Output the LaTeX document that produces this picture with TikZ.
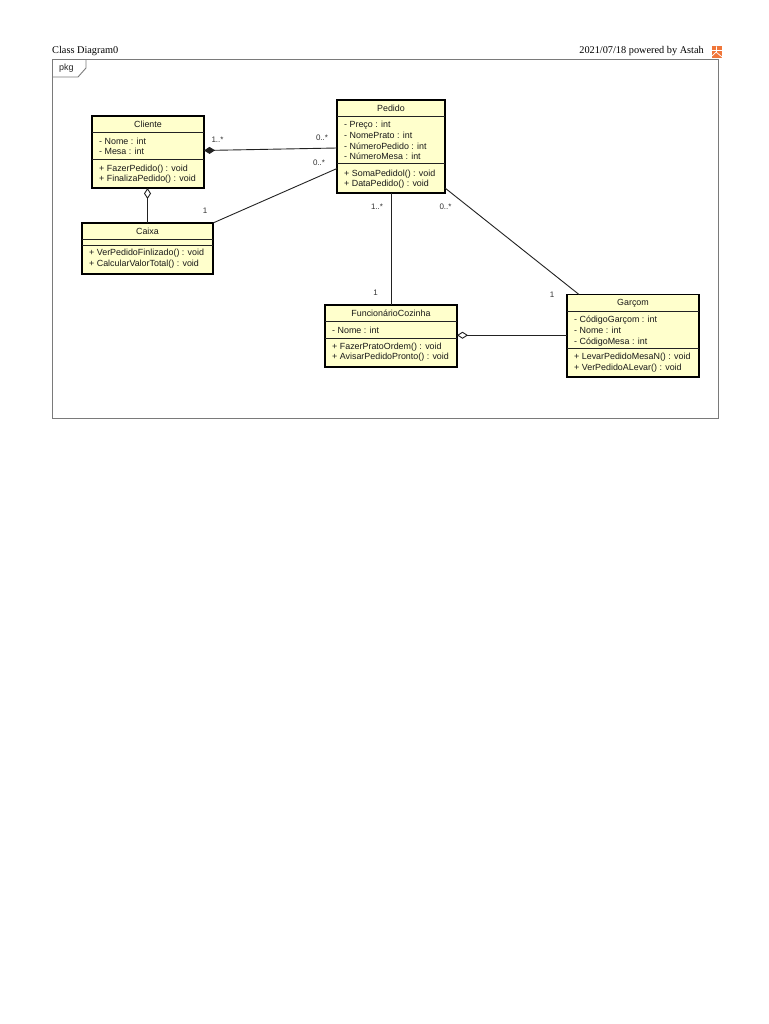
\documentclass[tikz,border=0pt]{standalone}
\usepackage{fontspec}
\setmainfont{Liberation Sans}
\newfontfamily\titlefont{Liberation Serif}
\usetikzlibrary{arrows.meta,calc}
\definecolor{umlfill}{HTML}{FFFFCC}
\definecolor{umlline}{HTML}{222222}
\definecolor{framegray}{HTML}{7A7A7A}
\definecolor{astah}{HTML}{F0763A}
\tikzset{
  classbox/.style={draw=black,fill=umlfill,line width=1.1pt,rectangle,inner sep=0pt,outer sep=0pt},
  divider/.style={draw=umlline,line width=0.7pt},
  classname/.style={font=\fontsize{8.9}{10}\selectfont,text=black!90,inner sep=0pt},
  members/.style={font=\fontsize{8.9}{10.7}\selectfont,text=black!90,align=left,anchor=north west,inner sep=0pt},
  assoc/.style={draw=umlline,line width=0.9pt},
  multi/.style={font=\fontsize{8}{9}\selectfont,text=black!80,inner sep=0pt},
  shared/.style={-{Diamond[open,length=11pt,width=7pt,fill=white]}},
  composite/.style={-{Diamond[length=11pt,width=7pt]}},
  pagetext/.style={font=\titlefont\fontsize{10.3}{11}\selectfont,inner sep=0pt}
}
\begin{document}
\begin{tikzpicture}[x=1pt,y=-1pt]
\useasboundingbox (0,0) rectangle (768,1024);
\fill[white] (0,0) rectangle (768,1024);
% page header
\node[pagetext,anchor=west] (title) at (52,51.5) {Class Diagram0};
\node[pagetext,anchor=east] (stamp) at (704,51.5) {2021/07/18 powered by Astah};
% astah logo
\fill[astah] (712,46.5) rectangle (722,58);
\draw[white,line width=0.7pt] (712,50.5) -- (722,50.5) (716.5,46.5) -- (716.5,52) (712,56) -- (716,52) -- (722,57);
% frame
\node[draw=framegray,line width=1pt,rectangle,minimum width=666pt,minimum height=358.5pt,inner sep=0pt,anchor=north west] (frame) at (52,59.5) {};
\draw[draw=framegray,line width=0.9pt] (52,77) -- (78,77) -- (86,68) -- (86,59.5);
\node[font=\fontsize{9}{10}\selectfont,text=black!85,inner sep=0pt] (pkg) at (66.5,68.5) {pkg};
% classes
\node[classbox,minimum width=112pt,minimum height=72pt,anchor=north west] (cliente) at (92,116) {};
\node[classbox,minimum width=131pt,minimum height=51pt,anchor=north west] (caixa) at (82,223) {};
\node[classbox,minimum width=108pt,minimum height=93pt,anchor=north west] (pedido) at (337,100) {};
\node[classbox,minimum width=132pt,minimum height=62pt,anchor=north west] (func) at (325,305) {};
\node[classbox,minimum width=132pt,minimum height=82.5pt,anchor=north west] (garcom) at (567,294.5) {};
% dividers
\draw[divider] (92,132) -- (204,132) (92,159) -- (204,159);
\draw[divider] (82,239) -- (213,239) (82,245.5) -- (213,245.5);
\draw[divider] (337,116) -- (445,116) (337,163.5) -- (445,163.5);
\draw[divider] (325,321) -- (457,321) (325,338) -- (457,338);
\draw[divider] (567,311) -- (699,311) (567,348) -- (699,348);
% class names
\node[classname] (n1) at (148,124.3) {Cliente};
\node[classname] (n2) at (147.5,231) {Caixa};
\node[classname] (n3) at (391,108.3) {Pedido};
\node[classname] (n4) at (391,313.3) {FuncionárioCozinha};
\node[classname] (n5) at (633,303) {Garçom};
% members
\node[members] (a1) at (99,137.5) {- Nome : int\\- Mesa : int};
\node[members] (o1) at (99,164.5) {+ FazerPedido() : void\\+ FinalizaPedido() : void};
\node[members] (o2) at (89,249) {+ VerPedidoFinlizado() : void\\+ CalcularValorTotal() : void};
\node[members] (a3) at (344,121) {- Preço : int\\- NomePrato : int\\- NúmeroPedido : int\\- NúmeroMesa : int};
\node[members] (o3) at (344,169.5) {+ SomaPedidol() : void\\+ DataPedido() : void};
\node[members] (a4) at (332,326.5) {- Nome : int};
\node[members] (o4) at (332,342.5) {+ FazerPratoOrdem() : void\\+ AvisarPedidoPronto() : void};
\node[members] (a5) at (574,316) {- CódigoGarçom : int\\- Nome : int\\- CódigoMesa : int};
\node[members] (o5) at (574,353) {+ LevarPedidoMesaN() : void\\+ VerPedidoALevar() : void};
% connectors
\draw[assoc,composite] ([yshift=-1.5pt]pedido.west) -- ([yshift=1.5pt]cliente.east);
\draw[assoc,shared] (caixa.north) -- (caixa.north |- cliente.south);
\draw[assoc] (caixa.north east) -- ([yshift=-22pt]pedido.west);
\draw[assoc] (pedido.south -| func.north) -- (func.north);
\draw[assoc] ([yshift=5pt]pedido.south east) -- ([xshift=12pt]garcom.north west);
\draw[assoc,shared] ([yshift=.5pt]garcom.west) -- ([yshift=.5pt]garcom.west -| func.east);
% multiplicities
\node[multi] (m1) at (217.5,139.5) {1..*};
\node[multi] (m2) at (322,138) {0..*};
\node[multi] (m3) at (319,163) {0..*};
\node[multi] (m4) at (205,211) {1};
\node[multi] (m5) at (377,207) {1..*};
\node[multi] (m6) at (445.5,207) {0..*};
\node[multi] (m7) at (375.5,293) {1};
\node[multi] (m8) at (552,294.5) {1};
\end{tikzpicture}
\end{document}
